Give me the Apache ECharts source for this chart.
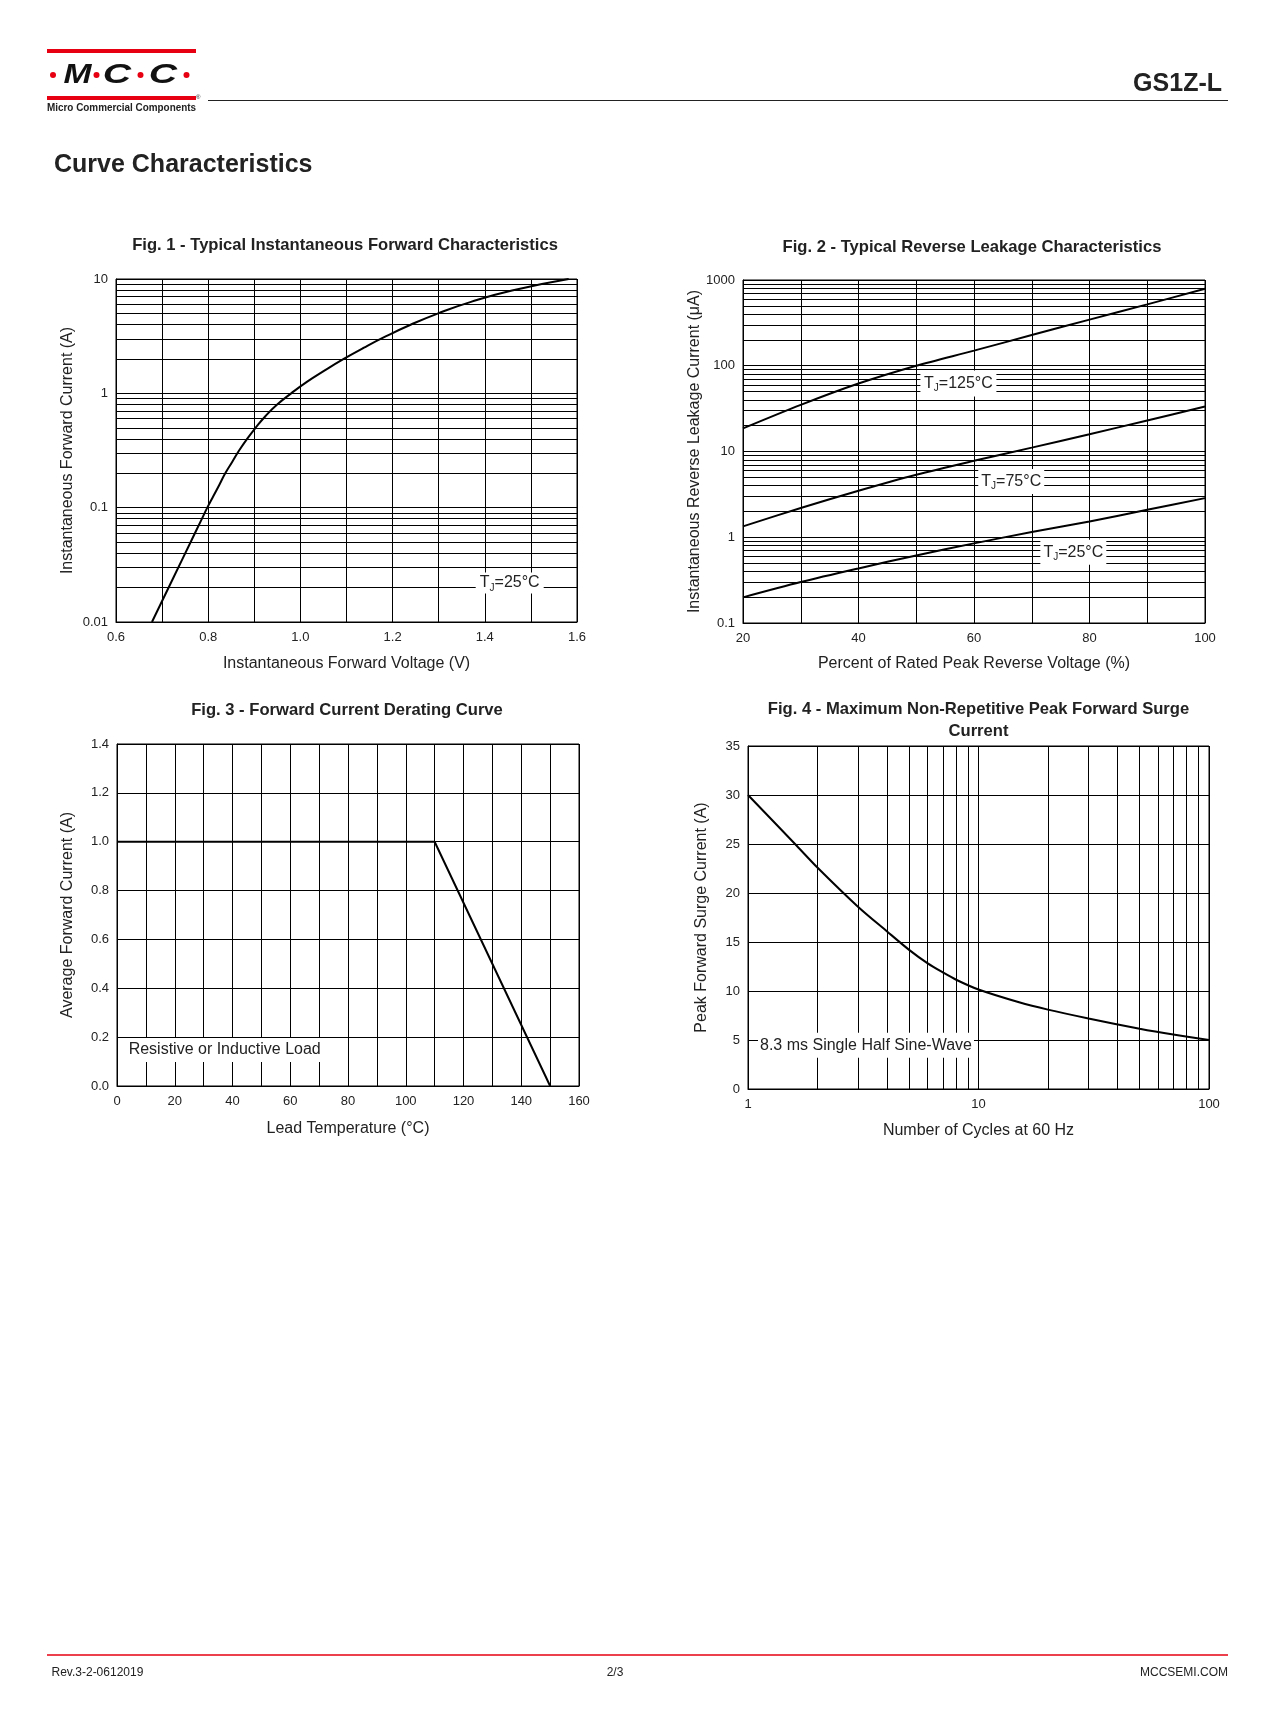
<!DOCTYPE html>
<html>
<head>
<meta charset="utf-8">
<script src="https://cdn.jsdelivr.net/npm/echarts@6/dist/echarts.min.js"></script>
<style>
html,body{margin:0;padding:0;background:#fff;}
#c{width:1276px;height:1719px;}
</style>
</head>
<body>
<div id="c"></div>
<script>
// ---------------- DATA ----------------
// Fig. 1 - forward characteristics (TJ = 25 °C)
const fig1Voltage = [0.678, 0.726, 0.762, 0.786, 0.798, 0.811, 0.824, 0.837, 0.852, 0.867, 0.884, 0.903, 0.924, 0.949, 0.980, 1.014, 1.052, 1.094, 1.138, 1.186, 1.239, 1.299, 1.370, 1.459, 1.582];
const fig1Current = [0.01, 0.0251, 0.0501, 0.0794, 0.1, 0.126, 0.158, 0.2, 0.251, 0.316, 0.398, 0.501, 0.631, 0.794, 1.0, 1.26, 1.58, 2.0, 2.51, 3.16, 3.98, 5.01, 6.31, 7.94, 10];
const fig1YTickLabels = ['0.01', '0.1', '1', '10'];

// Fig. 2 - reverse leakage (µA)
const fig2Percent = [20, 30, 40, 50, 60, 70, 80, 90, 100];
const fig2Tj125 = [18.6, 35, 62, 100, 150, 228, 345, 520, 790];
const fig2Tj75 = [1.34, 2.19, 3.48, 5.35, 7.78, 11.1, 15.9, 23, 33.4];
const fig2Tj25 = [0.199, 0.30, 0.433, 0.614, 0.848, 1.15, 1.53, 2.09, 2.86];
const fig2YTickLabels = ['0.1', '1', '10', '100', '1000'];

// Fig. 3 - derating
const fig3Temp = [0, 110, 150];
const fig3Current = [1.0, 1.0, 0.0];

// Fig. 4 - surge current
const fig4Cycles = [1, 1.6, 2, 3, 4, 5, 6, 7, 8, 10, 15, 20, 30, 50, 70, 100];
const fig4Current = [30, 25, 22.6, 18.6, 16.1, 14.2, 12.85, 11.9, 11.15, 10.15, 8.85, 8.1, 7.2, 6.15, 5.55, 5.0];
const fig4XTickLabels = ['1', '10', '100'];

// ---------------- HELPERS ----------------
const FONT = '"Liberation Sans", Arial, Helvetica, sans-serif';
const TXT = '#222';
function zip(a, b) { return a.map((v, i) => [v, b[i]]); }
function logMinors(lo, hi) { // grid values 2..9 of each decade
  const out = [];
  for (let e = lo; e < hi; e++) for (let k = 2; k <= 9; k++) out.push(+(k * Math.pow(10, e)).toPrecision(3));
  return out;
}
function expIndex(v, base) { return Math.round(Math.log10(v)) - base; }

function makeAxis(o) {
  return {
    gridIndex: o.grid,
    type: o.type,
    logBase: 10,
    min: o.min, max: o.max,
    interval: o.interval,
    name: o.name,
    nameLocation: 'middle',
    nameGap: o.nameGap,
    nameTextStyle: { color: TXT, fontSize: 16, fontFamily: FONT },
    axisLine: { show: true, onZero: false, lineStyle: { color: '#000', width: 1 } },
    axisTick: { show: false },
    axisLabel: { color: TXT, fontSize: 13, fontFamily: FONT, margin: o.margin, formatter: o.formatter, showMinLabel: true, showMaxLabel: true },
    splitLine: { show: true, lineStyle: { color: '#000', width: 1, type: 'solid' } },
    minorTick: { show: false },
    minorSplitLine: { show: false }
  };
}

const lineStyleBlack = { color: '#000', width: 2 };
function curve(xi, data, smooth) {
  return { type: 'line', xAxisIndex: xi, yAxisIndex: xi, data: data, smooth: smooth,
    showSymbol: false, symbol: 'none', lineStyle: lineStyleBlack, z: 5, silent: true, animation: false };
}
function minorGrid(xi, dim, values) {
  return { type: 'line', xAxisIndex: xi, yAxisIndex: xi, data: [], z: 1, silent: true, animation: false,
    markLine: { silent: true, symbol: ['none', 'none'], label: { show: false }, animation: false,
      lineStyle: { color: '#000', width: 1, type: 'solid' }, emphasis: { disabled: true },
      data: values.map(v => ({ [dim]: v })) } };
}
const richTj = {
  t: { fontSize: 16, fontFamily: FONT, color: TXT, lineHeight: 20, verticalAlign: 'middle' },
  s: { fontSize: 10, fontFamily: FONT, color: TXT, lineHeight: 11, verticalAlign: 'bottom' }
};
function notes(xi, items) {
  return { type: 'line', xAxisIndex: xi, yAxisIndex: xi, data: [], z: 3, silent: true, animation: false,
    markPoint: { silent: true, animation: false, symbol: 'rect', itemStyle: { color: '#fff' },
      emphasis: { disabled: true },
      data: items.map(it => ({ coord: it.coord, symbol: 'rect', symbolSize: it.size, itemStyle: { color: '#fff' },
        label: { show: true, position: 'inside', color: TXT, fontSize: 16, fontFamily: FONT, formatter: it.text, rich: richTj } })) } };
}

// ---------------- OPTION ----------------
const grids = [
  { left: 116, top: 279, width: 461, height: 343 },
  { left: 743, top: 280, width: 462, height: 343 },
  { left: 117, top: 744, width: 462, height: 342 },
  { left: 748, top: 746, width: 461, height: 343 }
].map(g => Object.assign({ show: true, borderColor: '#000', borderWidth: 1, backgroundColor: 'transparent', containLabel: false, outerBoundsMode: 'none' }, g));

const xAxes = [
  makeAxis({ grid: 0, type: 'value', min: 0.6, max: 1.6, interval: 0.1, margin: 9, nameGap: 34,
    name: 'Instantaneous Forward Voltage (V)',
    formatter: v => (Math.round(v * 10) % 2 === 0 ? v.toFixed(1) : '') }),
  makeAxis({ grid: 1, type: 'value', min: 20, max: 100, interval: 10, margin: 9, nameGap: 33,
    name: 'Percent of Rated Peak Reverse Voltage (%)',
    formatter: v => (Math.round(v) % 20 === 0 ? String(Math.round(v)) : '') }),
  makeAxis({ grid: 2, type: 'value', min: 0, max: 160, interval: 10, margin: 9, nameGap: 35,
    name: 'Lead Temperature (°C)',
    formatter: v => (Math.round(v) % 20 === 0 ? String(Math.round(v)) : '') }),
  makeAxis({ grid: 3, type: 'log', min: 1, max: 100, margin: 9, nameGap: 34,
    name: 'Number of Cycles at 60 Hz',
    formatter: v => fig4XTickLabels[expIndex(v, 0)] })
];
const yAxes = [
  makeAxis({ grid: 0, type: 'log', min: 0.01, max: 10, margin: 8, nameGap: 40,
    name: 'Instantaneous Forward Current (A)',
    formatter: v => fig1YTickLabels[expIndex(v, -2)] }),
  makeAxis({ grid: 1, type: 'log', min: 0.1, max: 1000, margin: 8, nameGap: 40,
    name: 'Instantaneous Reverse Leakage Current (μA)',
    formatter: v => fig2YTickLabels[expIndex(v, -1)] }),
  makeAxis({ grid: 2, type: 'value', min: 0, max: 1.4, interval: 0.2, margin: 8, nameGap: 41,
    name: 'Average Forward Current (A)',
    formatter: v => v.toFixed(1) }),
  makeAxis({ grid: 3, type: 'value', min: 0, max: 35, interval: 5, margin: 8, nameGap: 38,
    name: 'Peak Forward Surge Current (A)',
    formatter: v => String(Math.round(v)) })
];

const series = [
  minorGrid(0, 'yAxis', logMinors(-2, 1)),
  notes(0, [{ coord: [1.454, 0.0219], size: [68, 21], text: '{t|T}{s|J}{t|=25°C}' }]),
  curve(0, zip(fig1Voltage, fig1Current), 0.5),

  minorGrid(1, 'yAxis', logMinors(-1, 3)),
  notes(1, [
    { coord: [57.3, 62.2], size: [76, 26], text: '{t|T}{s|J}{t|=125°C}' },
    { coord: [66.45, 4.47], size: [66, 25], text: '{t|T}{s|J}{t|=75°C}' },
    { coord: [77.2, 0.668], size: [66, 25], text: '{t|T}{s|J}{t|=25°C}' }
  ]),
  curve(1, zip(fig2Percent, fig2Tj125), 0.3),
  curve(1, zip(fig2Percent, fig2Tj75), 0.3),
  curve(1, zip(fig2Percent, fig2Tj25), 0.3),

  notes(2, [{ coord: [37.3, 0.147], size: [210, 24], text: 'Resistive or Inductive Load' }]),
  curve(2, zip(fig3Temp, fig3Current), false),

  minorGrid(3, 'xAxis', logMinors(0, 2)),
  notes(3, [{ coord: [3.25, 4.47], size: [216, 25], text: '8.3 ms Single Half Sine-Wave' }]),
  curve(3, zip(fig4Cycles, fig4Current), 0.3)
];

const RED = '#e60012';
function txt(x, y, text, size, weight, align, extra) {
  return Object.assign({ type: 'text', x: x, y: y, silent: true,
    style: { text: text, fill: TXT, font: (weight || 'normal') + ' ' + size + 'px ' + FONT,
      textAlign: align || 'left', textVerticalAlign: 'middle', align: align || 'left', verticalAlign: 'middle' } }, extra || {});
}
function logoLetter(x, ch, sx) {
  return { type: 'text', x: x, y: 75, scaleX: sx, silent: true,
    style: { text: ch, fill: '#111', font: 'italic 900 28px ' + FONT, textAlign: 'center', textVerticalAlign: 'middle', align: 'center', verticalAlign: 'middle' } };
}
const graphics = [
  // logo
  { type: 'rect', silent: true, shape: { x: 47, y: 49, width: 149, height: 4 }, style: { fill: RED } },
  { type: 'rect', silent: true, shape: { x: 47, y: 96, width: 149, height: 4 }, style: { fill: RED } },
  { type: 'circle', silent: true, shape: { cx: 53, cy: 75, r: 3 }, style: { fill: RED } },
  { type: 'circle', silent: true, shape: { cx: 96.5, cy: 75, r: 3 }, style: { fill: RED } },
  { type: 'circle', silent: true, shape: { cx: 140.5, cy: 75, r: 3 }, style: { fill: RED } },
  { type: 'circle', silent: true, shape: { cx: 186.5, cy: 75, r: 3 }, style: { fill: RED } },
  logoLetter(77.5, 'M', 1.2),
  logoLetter(117, 'C', 1.4),
  logoLetter(163, 'C', 1.4),
  txt(47, 107.5, 'Micro Commercial Components', 11, 'bold', 'left', { scaleX: 0.9 }),
  txt(196, 97, '®', 6, 'normal', 'left'),
  { type: 'line', silent: true, shape: { x1: 208, y1: 100.5, x2: 1228, y2: 100.5 }, style: { stroke: '#222', lineWidth: 1 } },
  txt(1222, 84, 'GS1Z-L', 25, 'bold', 'right'),
  txt(54, 165.5, 'Curve Characteristics', 25, 'bold', 'left'),
  // figure titles
  txt(345, 245.5, 'Fig. 1 - Typical Instantaneous Forward Characteristics', 16.6, 'bold', 'center'),
  txt(972, 247.5, 'Fig. 2 - Typical Reverse Leakage Characteristics', 16.6, 'bold', 'center'),
  txt(347, 710, 'Fig. 3 - Forward Current Derating Curve', 16.6, 'bold', 'center'),
  txt(978.5, 709, 'Fig. 4 - Maximum Non-Repetitive Peak Forward Surge', 16.6, 'bold', 'center'),
  txt(978.5, 731, 'Current', 16.6, 'bold', 'center'),
  // footer
  { type: 'line', silent: true, shape: { x1: 47, y1: 1655, x2: 1228, y2: 1655 }, style: { stroke: RED, lineWidth: 1.5 } },
  txt(51.5, 1673, 'Rev.3-2-0612019', 12, 'normal', 'left'),
  txt(615, 1673, '2/3', 12, 'normal', 'center'),
  txt(1228, 1673, 'MCCSEMI.COM', 12, 'normal', 'right')
];

const chart = echarts.init(document.getElementById('c'), null, { renderer: 'canvas', width: 1276, height: 1719 });
chart.setOption({
  animation: false,
  backgroundColor: '#fff',
  textStyle: { fontFamily: FONT },
  grid: grids,
  xAxis: xAxes,
  yAxis: yAxes,
  series: series,
  graphic: { elements: graphics }
});
</script>
</body>
</html>
